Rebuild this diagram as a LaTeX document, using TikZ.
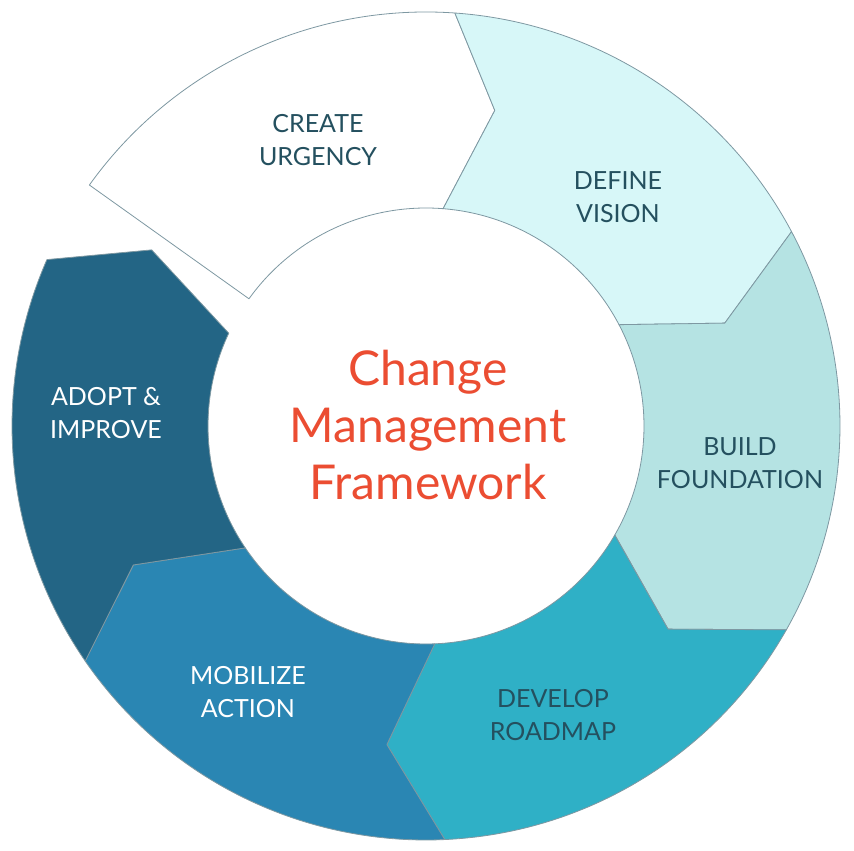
\documentclass[tikz,border=0pt]{standalone}
\usepackage{fontspec}
\setmainfont{Lato}
\definecolor{cdark}{HTML}{24505F}
\definecolor{cdef}{HTML}{D7F7F8}
\definecolor{cbuild}{HTML}{B5E3E3}
\definecolor{cdev}{HTML}{2FB0C6}
\definecolor{cmob}{HTML}{2A86B3}
\definecolor{cadopt}{HTML}{236585}
\definecolor{corange}{HTML}{EB4D32}
\definecolor{cline}{HTML}{7E98A2}
\begin{document}
\begin{tikzpicture}[x=1pt,y=1pt,
  seg/.style={draw=cline,line width=0.8pt,line join=round},
  lbl/.style={font=\fontsize{25}{33}\selectfont,align=center,text=cdark},
  lblw/.style={lbl,text=white}]
\useasboundingbox (-426,-425) rectangle (428,426);
\path[seg,fill=white] (144.4:414pt) arc[start angle=144.4,end angle=86,radius=414pt] -- (77.7:323pt) -- (85.5:218pt) arc[start angle=85.5,end angle=144.3,radius=218pt] -- cycle;
\path[seg,fill=cdef] (86:414pt) arc[start angle=86,end angle=28,radius=414pt] -- (19:316pt) -- (27.7:218pt) arc[start angle=27.7,end angle=85.5,radius=218pt] -- (77.7:323pt) -- cycle;
\path[seg,fill=cbuild] (28:414pt) arc[start angle=28,end angle=-29.5,radius=414pt] -- (-40:316pt) -- (-30:218pt) arc[start angle=-30,end angle=27.7,radius=218pt] -- (19:316pt) -- cycle;
\path[seg,fill=cdev] (-29.5:414pt) arc[start angle=-29.5,end angle=-87.4,radius=414pt] -- (-97:321pt) -- (-87.7:218pt) arc[start angle=-87.7,end angle=-30,radius=218pt] -- (-40:316pt) -- cycle;
\path[seg,fill=cmob] (-87.4:414pt) arc[start angle=-87.4,end angle=-145.4,radius=414pt] -- (-154.6:324pt) -- (-146:218pt) arc[start angle=-146,end angle=-87.7,radius=218pt] -- (-97:321pt) -- cycle;
\path[seg,fill=cadopt] (214.6:414pt) arc[start angle=214.6,end angle=156.3,radius=414pt] -- (147.3:326pt) -- (154.8:218pt) arc[start angle=154.8,end angle=214,radius=218pt] -- (205.4:324pt) -- cycle;
\node[lbl] (create) at (-108,286) {CREATE\\URGENCY};
\node[lbl] (define) at (192,229) {DEFINE\\VISION};
\node[lbl] (build) at (314,-37) {BUILD\\FOUNDATION};
\node[lbl] (develop) at (127,-289) {DEVELOP\\ROADMAP};
\node[lblw] (mobilize) at (-178,-266) {MOBILIZE\\ACTION};
\node[lblw] (adopt) at (-320,13) {ADOPT \&\\IMPROVE};
\node[font=\fontsize{48}{57}\selectfont,align=center,text=corange] (center) at (2,1) {Change\\Management\\Framework};
\end{tikzpicture}
\end{document}
